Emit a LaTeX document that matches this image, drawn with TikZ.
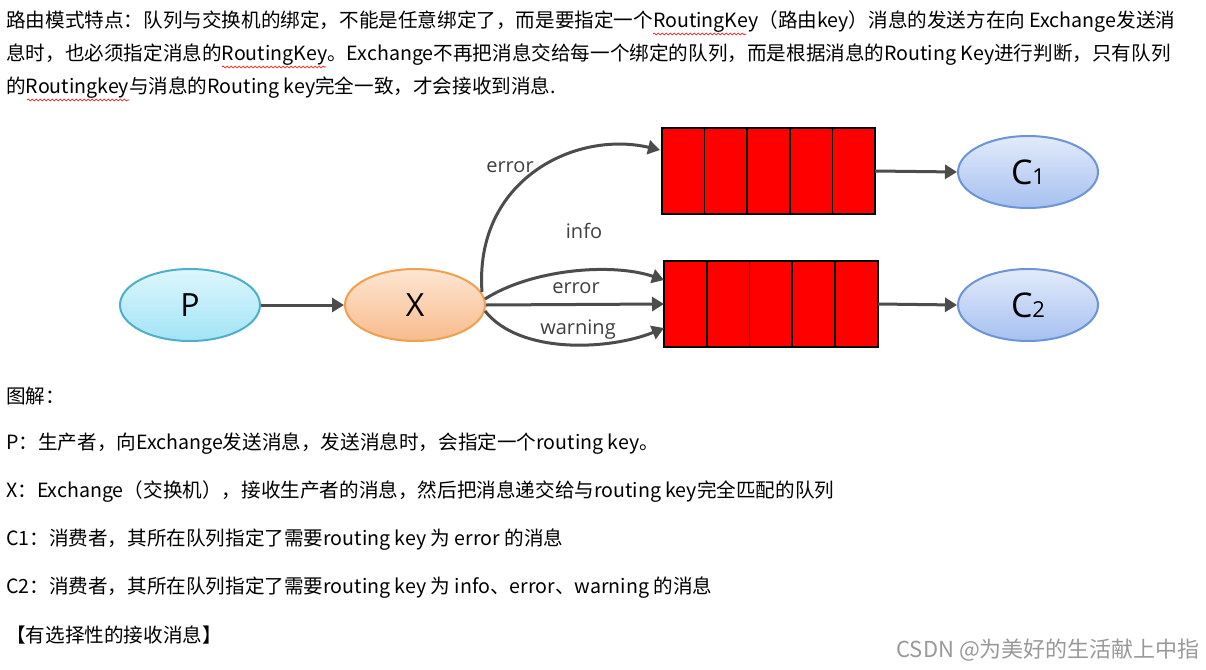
\documentclass[tikz,border=0pt]{standalone}
\usepackage{fontspec}
\setmainfont{Noto Sans CJK SC}
\newfontfamily\lab{Open Sans}
\usetikzlibrary{shapes.geometric,arrows.meta,decorations.pathmorphing}
\definecolor{ctop}{HTML}{E2EBFB}
\definecolor{cbot}{HTML}{A6C0F0}
\definecolor{cbrd}{HTML}{6C94D6}
\definecolor{ptop}{HTML}{DDF6FC}
\definecolor{pbot}{HTML}{A2E4F6}
\definecolor{pbrd}{HTML}{4EAFC9}
\definecolor{xtop}{HTML}{FDE6D2}
\definecolor{xbot}{HTML}{F8BB8C}
\definecolor{xbrd}{HTML}{F0A04E}
\begin{document}
\begin{tikzpicture}[x=1pt,y=-1pt,
 txt/.style={anchor=west,inner sep=0pt,font=\fontsize{19.6}{19.6}\selectfont},
 ell/.style={ellipse,draw,line width=2pt,minimum width=140pt,minimum height=72pt,inner sep=0pt},
 arr/.style={draw=black!70,line width=3pt,-{Triangle[length=12pt,width=14pt]}},
 rlab/.style={font=\lab\fontsize{20}{20}\selectfont,text=black!75,inner sep=0pt},
 cell/.style={draw=black,line width=1.5pt,fill=red,minimum height=86pt,minimum width=42.6pt,inner sep=0pt,outer sep=0pt},
 squig/.style={draw=red,line width=0.6pt,decorate,decoration={snake,amplitude=1pt,segment length=4pt}}]
\useasboundingbox (0,0) rectangle (1206,669);
\fill[white] (0,0) rectangle (1206,669);
% text
\node[txt] (t1) at (6,22) {路由模式特点：队列与交换机的绑定，不能是任意绑定了，而是要指定一个RoutingKey（路由key）消息的发送方在向 Exchange发送消};
\node[txt] (t2) at (6,55) {息时，也必须指定消息的RoutingKey。Exchange不再把消息交给每一个绑定的队列，而是根据消息的Routing Key进行判断，只有队列};
\node[txt] (t3) at (6,88) {的Routingkey与消息的Routing key完全一致，才会接收到消息.};
\draw[squig] (653,34) -- (746,34);
\draw[squig] (222,67) -- (326,67);
\draw[squig] (27,100) -- (129,100);
\node[txt] (t4) at (6,396) {图解：};
\node[txt] (t5) at (6,444) {P：生产者，向Exchange发送消息，发送消息时，会指定一个routing key。};
\node[txt] (t6) at (6,492) {X：Exchange（交换机），接收生产者的消息，然后把消息递交给与routing key完全匹配的队列};
\node[txt] (t7) at (6,540) {C1：消费者，其所在队列指定了需要routing key 为 error 的消息};
\node[txt] (t8) at (6,588) {C2：消费者，其所在队列指定了需要routing key 为 info、error、warning 的消息};
\node[txt] (t9) at (6,635) {【有选择性的接收消息】};
\node[anchor=east,inner sep=0pt,font=\fontsize{22}{22}\selectfont,text=black!40] (wm) at (1200,650) {CSDN @为美好的生活献上中指};
% diagram
\node[ell,draw=pbrd,top color=ptop,bottom color=pbot] (P) at (190,305) {\lab\fontsize{32}{32}\selectfont P};
\node[ell,draw=xbrd,top color=xtop,bottom color=xbot] (X) at (415,305) {\lab\fontsize{32}{32}\selectfont X};
\node[ell,draw=cbrd,top color=ctop,bottom color=cbot] (C1) at (1028,172) {\lab{\fontsize{34}{34}\selectfont C}{\fontsize{22}{22}\selectfont 1}};
\node[ell,draw=cbrd,top color=ctop,bottom color=cbot] (C2) at (1028,305) {\lab{\fontsize{34}{34}\selectfont C}{\fontsize{22}{22}\selectfont 2}};
\foreach \i in {0,...,4}{
 \node[cell,anchor=north west] (qa\i) at ({662+\i*42.6},128) {};
 \node[cell,anchor=north west] (qb\i) at ({664+\i*42.8},261) {};
}
\draw[line width=2pt] (qa0.north west) rectangle (qa4.south east);
\draw[line width=2pt] (qb0.north west) rectangle (qb4.south east);
\coordinate (xa) at (482,292);
\coordinate (qat) at (660,150);
\draw[arr] (P) -- (X);
\draw[arr] (X.east) -- (qb0.west);
\draw[arr] (xa) .. controls (474,180) and (575,130) .. (qat);
\draw[arr] ([xshift=-1pt,yshift=6pt]X.east) .. controls (530,270) and (610,262) .. ([yshift=24pt]qb0.west);
\draw[arr] ([xshift=-1pt,yshift=-6pt]X.east) .. controls (520,355) and (610,350) .. ([yshift=-24pt]qb0.west);
\draw[arr] (qa4.east) -- (C1.west);
\draw[arr] (qb4.east) -- (C2.west);
\node[rlab] (l1) at (510,167) {error};
\node[rlab] (l2) at (584,231) {info};
\node[rlab] (l3) at (576,288) {error};
\node[rlab] (l4) at (578,330) {warning};
\end{tikzpicture}
\end{document}
